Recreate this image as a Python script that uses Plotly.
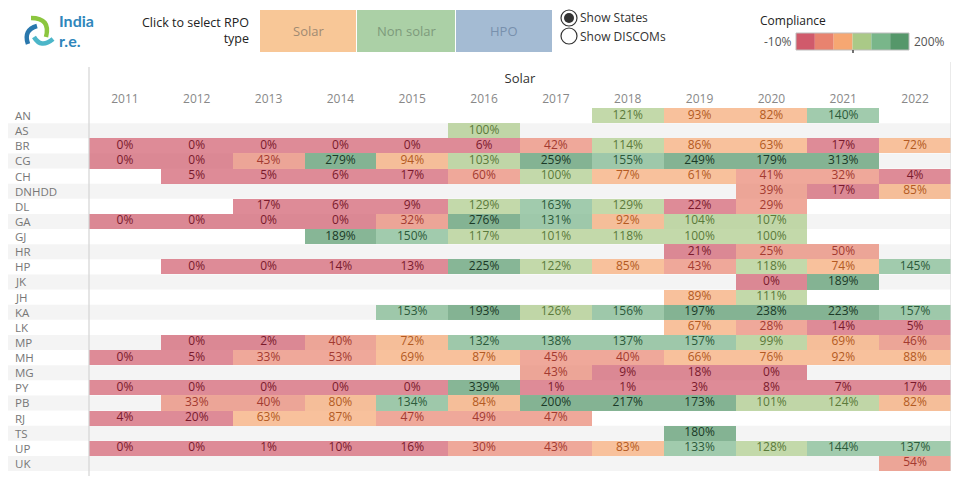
import plotly.graph_objects as go

N = None
years = [str(y) for y in range(2011, 2023)]
states = ["AN", "AS", "BR", "CG", "CH", "DNHDD", "DL", "GA", "GJ", "HR", "HP", "JK",
          "JH", "KA", "LK", "MP", "MH", "MG", "PY", "PB", "RJ", "TS", "UP", "UK"]

# Solar RPO compliance (%) per state, 2011..2022
row_AN = [N, N, N, N, N, N, N, 121, 93, 82, 140, N]
row_AS = [N, N, N, N, N, 100, N, N, N, N, N, N]
row_BR = [0, 0, 0, 0, 0, 6, 42, 114, 86, 63, 17, 72]
row_CG = [0, 0, 43, 279, 94, 103, 259, 155, 249, 179, 313, N]
row_CH = [N, 5, 5, 6, 17, 60, 100, 77, 61, 41, 32, 4]
row_DNHDD = [N, N, N, N, N, N, N, N, N, 39, 17, 85]
row_DL = [N, N, 17, 6, 9, 129, 163, 129, 22, 29, N, N]
row_GA = [0, 0, 0, 0, 32, 276, 131, 92, 104, 107, N, N]
row_GJ = [N, N, N, 189, 150, 117, 101, 118, 100, 100, N, N]
row_HR = [N, N, N, N, N, N, N, N, 21, 25, 50, N]
row_HP = [N, 0, 0, 14, 13, 225, 122, 85, 43, 118, 74, 145]
row_JK = [N, N, N, N, N, N, N, N, N, 0, 189, N]
row_JH = [N, N, N, N, N, N, N, N, 89, 111, N, N]
row_KA = [N, N, N, N, 153, 193, 126, 156, 197, 238, 223, 157]
row_LK = [N, N, N, N, N, N, N, N, 67, 28, 14, 5]
row_MP = [N, 0, 2, 40, 72, 132, 138, 137, 157, 99, 69, 46]
row_MH = [0, 5, 33, 53, 69, 87, 45, 40, 66, 76, 92, 88]
row_MG = [N, N, N, N, N, N, 43, 9, 18, 0, N, N]
row_PY = [0, 0, 0, 0, 0, 339, 1, 1, 3, 8, 7, 17]
row_PB = [N, 33, 40, 80, 134, 84, 200, 217, 173, 101, 124, 82]
row_RJ = [4, 20, 63, 87, 47, 49, 47, N, N, N, N, N]
row_TS = [N, N, N, N, N, N, N, N, 180, N, N, N]
row_UP = [0, 0, 1, 10, 16, 30, 43, 83, 133, 128, 144, 137]
row_UK = [N, N, N, N, N, N, N, N, N, N, N, 54]

rows = [row_AN, row_AS, row_BR, row_CG, row_CH, row_DNHDD, row_DL, row_GA, row_GJ,
        row_HR, row_HP, row_JK, row_JH, row_KA, row_LK, row_MP, row_MH, row_MG,
        row_PY, row_PB, row_RJ, row_TS, row_UP, row_UK]

# stepped colour scale (-10% .. 200%, 6 steps)
zmin, zmax = -10, 200
bounds = [24.5, 60.5, 95, 130, 165]
step_colors = ["#d05a6b", "#e8836f", "#f6a772", "#aac987", "#79b68a", "#55976a"]
text_colors = ["#7a1a2c", "#a33a30", "#b35a22", "#5b7a3a", "#2c5a3a", "#1b3a27"]

cs = []
edges = [zmin] + bounds + [zmax]
for i, c in enumerate(step_colors):
    cs.append([(edges[i] - zmin) / (zmax - zmin), c])
    cs.append([(edges[i + 1] - zmin) / (zmax - zmin), c])

def bin_of(v):
    b = 0
    for t in bounds:
        if v > t:
            b += 1
    return b

FONT = "Open Sans"
OFF = 8                      # page body margin offset
W, H = 959 - OFF, 479 - OFF
ML, MT = 89 - OFF, 108 - OFF
MR = W - (951 - OFF)
MB = H - (471 - OFF)
PW, PH = W - ML - MR, H - MT - MB

def X(px):
    return (px - OFF - ML) / PW

def Y(py):
    return (H - MB - (py - OFF)) / PH

def note(x, y, text, size=12, color="#333", xa="left", family=FONT, **kw):
    return dict(xref="paper", yref="paper", x=X(x), y=Y(y), xanchor=xa,
                yanchor="middle", text=text, showarrow=False,
                font=dict(family=family, size=size, color=color), **kw)

fig = go.Figure()

fig.add_trace(go.Heatmap(
    z=rows, x=years, y=states, colorscale=cs, zmin=zmin, zmax=zmax,
    showscale=False, opacity=0.7, hoverongaps=False, xgap=0, ygap=0,
))

tx, ty, tt, tc = [], [], [], []
for s, r in zip(states, rows):
    for yr, v in zip(years, r):
        if v is None:
            continue
        tx.append(yr)
        ty.append(s)
        tt.append(f"{v}%")
        tc.append(text_colors[bin_of(v)])

fig.add_trace(go.Scatter(
    x=tx, y=ty, text=tt, mode="text", textposition="middle center",
    textfont=dict(family=FONT, size=12, color=tc), hoverinfo="skip",
    cliponaxis=False, showlegend=False,
))

shapes = []
annotations = []
# alternating row bands
for i in range(len(states)):
    if i % 2 == 1:
        shapes.append(dict(type="rect", xref="paper", yref="y", x0=X(8), x1=1,
                           y0=i - 0.5, y1=i + 0.5, fillcolor="#f4f4f4",
                           line=dict(width=0), layer="below"))
# vertical frame lines
shapes.append(dict(type="line", xref="paper", yref="paper", x0=0, x1=0,
                   y0=Y(67), y1=Y(476), line=dict(color="#d4d4d4", width=1.2)))
shapes.append(dict(type="line", xref="paper", yref="paper", x0=X(951), x1=X(951),
                   y0=Y(62), y1=Y(471), line=dict(color="#dddddd", width=1.2)))

# RPO type buttons
buttons = [("Solar", 260, 356, "#f8c797", "#a08a72"),
           ("Non solar", 357, 455, "#abd0a6", "#7d9a7b"),
           ("HPO", 456, 552, "#a4bbd3", "#7890ad")]
for lbl, x0, x1, fc, tcol in buttons:
    shapes.append(dict(type="rect", xref="paper", yref="paper", x0=X(x0), x1=X(x1),
                       y0=Y(52), y1=Y(10), fillcolor=fc, line=dict(width=0)))
    annotations.append(note((x0 + x1) / 2, 31, lbl, size=13, color=tcol, xa="center"))

annotations.append(note(251, 31, "Click to select RPO<br>type", size=12.5,
                        color="#222", xa="right", align="right"))

# radio buttons
shapes.append(dict(type="circle", xref="paper", yref="paper", x0=X(561), x1=X(577),
                   y0=Y(26), y1=Y(10), line=dict(color="#333", width=1.2), fillcolor="white"))
shapes.append(dict(type="circle", xref="paper", yref="paper", x0=X(564), x1=X(574),
                   y0=Y(23), y1=Y(13), line=dict(width=0), fillcolor="#333"))
shapes.append(dict(type="circle", xref="paper", yref="paper", x0=X(561), x1=X(577),
                   y0=Y(44), y1=Y(28), line=dict(color="#333", width=1.2), fillcolor="white"))
annotations.append(note(579, 18, "Show States", size=12, color="#333", borderpad=0))
annotations.append(note(579, 36, "Show DISCOMs", size=12, color="#333", borderpad=0))

# compliance legend
annotations.append(note(758, 21, "Compliance", size=12, color="#222"))
annotations.append(note(794, 42, "-10%", size=12, color="#555", xa="right"))
annotations.append(note(912, 42, "200%", size=12, color="#555"))
lx0, lx1 = 796, 909
seg = (lx1 - lx0) / len(step_colors)
for i, c in enumerate(step_colors):
    shapes.append(dict(type="rect", xref="paper", yref="paper",
                       x0=X(lx0 + i * seg), x1=X(lx0 + (i + 1) * seg),
                       y0=Y(50), y1=Y(33), fillcolor=c, line=dict(width=0)))
shapes.append(dict(type="rect", xref="paper", yref="paper", x0=X(lx0), x1=X(lx1),
                   y0=Y(50), y1=Y(33), line=dict(color="#bdbdbd", width=1)))
shapes.append(dict(type="line", xref="paper", yref="paper", x0=X(853), x1=X(853),
                   y0=Y(50), y1=Y(53), line=dict(color="#444", width=1.5)))

# logo
def P(pts):
    (ax, ay), (bx, by), (cx, cy) = pts
    return f"M {X(ax)},{Y(ay)} Q {X(bx)},{Y(by)} {X(cx)},{Y(cy)}"

shapes.append(dict(type="path", xref="paper", yref="paper",
                   path=P([(31, 18), (51, 18), (46, 37)]),
                   line=dict(color="#8cc63f", width=4.5)))
shapes.append(dict(type="path", xref="paper", yref="paper",
                   path=P([(37, 26), (23, 30), (28, 44)]),
                   line=dict(color="#2a78ad", width=4.5)))
shapes.append(dict(type="path", xref="paper", yref="paper",
                   path=P([(34, 37), (41, 49), (53, 39)]),
                   line=dict(color="#4cb6c9", width=4.5)))
annotations.append(note(58, 21, "<b>India</b>", size=16, color="#2f86bb",
                        family="Lato", borderpad=0))
annotations.append(note(58, 40, "<b>r.e.</b>", size=16, color="#2f86bb",
                        family="Lato", borderpad=0))

# row labels
for s in states:
    annotations.append(dict(xref="paper", yref="y", x=X(14), y=s, xanchor="left",
                            yanchor="middle", text=s, showarrow=False, borderpad=0,
                            font=dict(family=FONT, size=11.5, color="#777")))

fig.update_layout(
    width=W, height=H, margin=dict(l=ML, r=MR, t=MT, b=MB),
    paper_bgcolor="white", plot_bgcolor="white",
    shapes=shapes, annotations=annotations, showlegend=False,
    xaxis=dict(type="category", categoryorder="array", categoryarray=years,
               side="top", showgrid=False, zeroline=False, showline=False, ticks="",
               ticklabelstandoff=2,
               tickfont=dict(family=FONT, size=12, color="#888"),
               title=dict(text="Solar", standoff=3,
                          font=dict(family=FONT, size=13, color="#333")),
               range=[-0.5, 11.5], fixedrange=True),
    yaxis=dict(type="category", categoryorder="array", categoryarray=states,
               showgrid=False, zeroline=False, showline=False, ticks="",
               showticklabels=False, range=[len(states) - 0.5, -0.5], fixedrange=True),
)

fig.write_html("out.html")
